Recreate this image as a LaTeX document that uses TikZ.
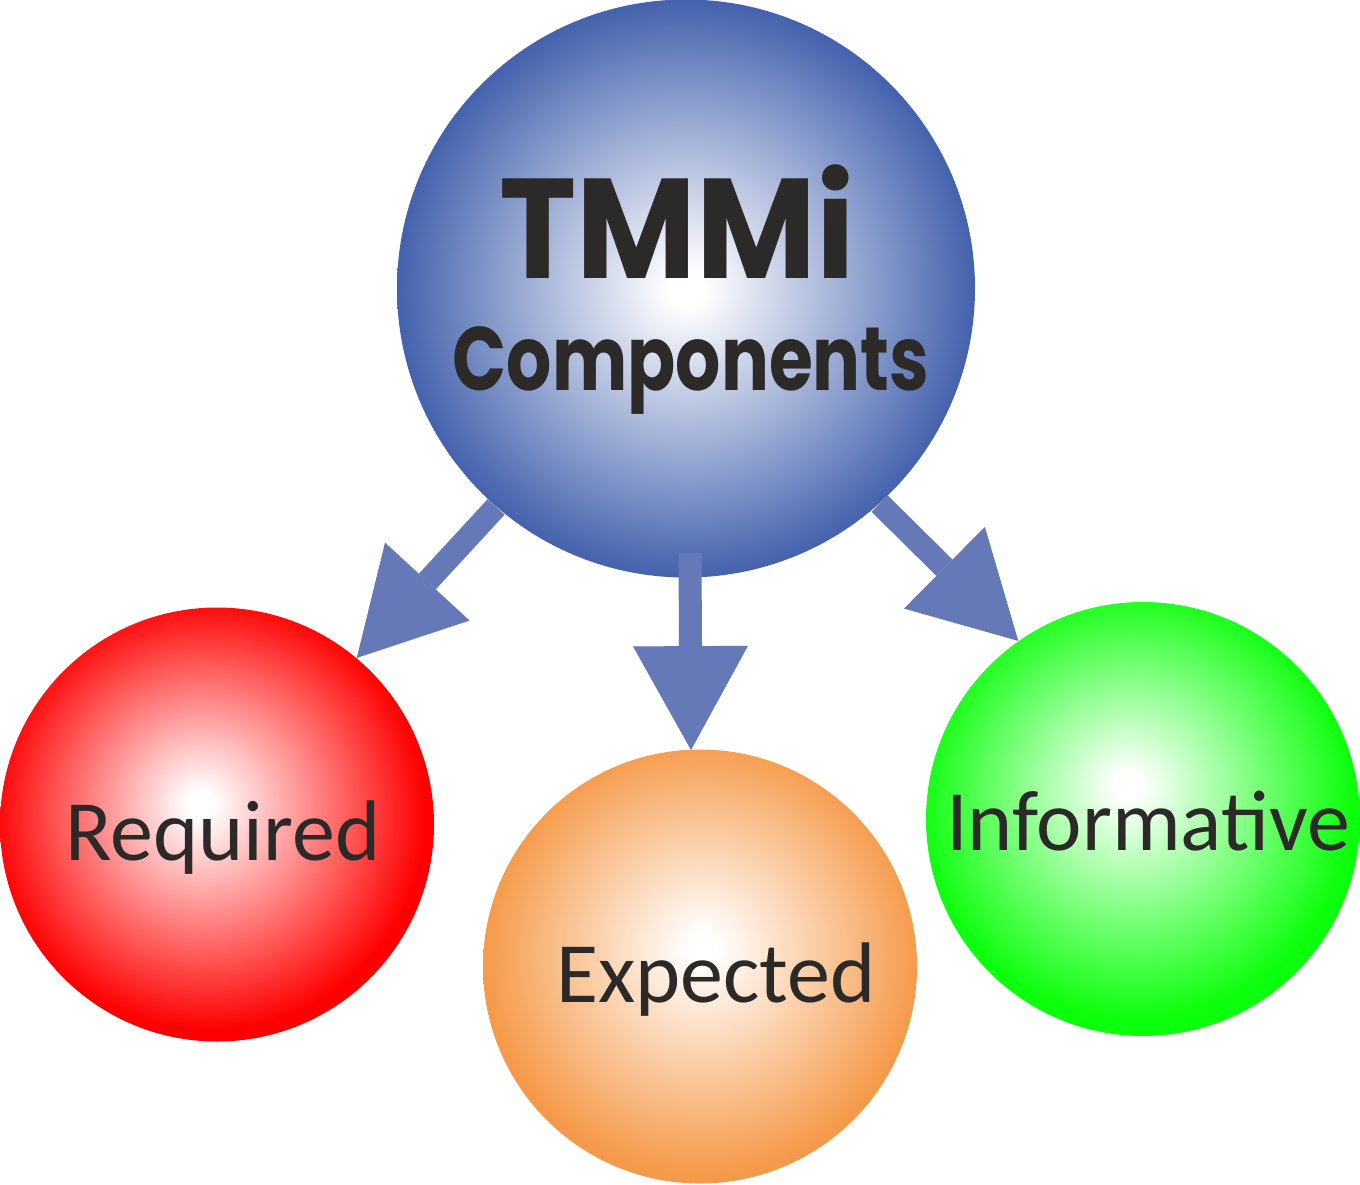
\documentclass[tikz,border=0pt]{standalone}
\usepackage{fontspec}
\setmainfont{Carlito}
\newfontfamily\titlefont{Poppins}
\usetikzlibrary{arrows.meta}
\definecolor{ballblue}{HTML}{4462AD}
\definecolor{ballred}{HTML}{FF0000}
\definecolor{ballorange}{HTML}{F59A4A}
\definecolor{ballgreen}{HTML}{0CFF0C}
\definecolor{arrowblue}{HTML}{6578B8}
\definecolor{txt}{HTML}{2B2A29}
\pgfdeclareradialshading{blueball}{\pgfpoint{0bp}{0bp}}{color(0bp)=(white); color(1.5bp)=(white); color(25bp)=(ballblue); color(50bp)=(ballblue)}
\pgfdeclareradialshading{redball}{\pgfpoint{-2bp}{2.5bp}}{color(0bp)=(white); color(1.5bp)=(white); color(25bp)=(ballred); color(50bp)=(ballred)}
\pgfdeclareradialshading{orangeball}{\pgfpoint{0.3bp}{2.3bp}}{color(0bp)=(white); color(1.5bp)=(white); color(25bp)=(ballorange); color(50bp)=(ballorange)}
\pgfdeclareradialshading{greenball}{\pgfpoint{-1.8bp}{4bp}}{color(0bp)=(white); color(1.5bp)=(white); color(25bp)=(ballgreen); color(50bp)=(ballgreen)}
\tikzset{
  ball/.style={circle, inner sep=0pt, draw=none},
  conn/.style={draw=arrowblue, line width=11.5pt,
    -{Triangle[length=52pt,width=57.5pt,line width=0pt]}},
  label/.style={text=txt, inner sep=0pt, anchor=base},
}
\begin{document}
\begin{tikzpicture}[x=0.5pt,y=-0.5pt]
\useasboundingbox (0,0) rectangle (1360,1184);
\node[ball, shading=blueball, minimum size=289pt] (top) at (686,288.5) {};
\node[ball, shading=redball, minimum size=217pt] (req) at (217,824.5) {};
\node[ball, shading=orangeball, minimum size=217pt] (exp) at (700,966.5) {};
\node[ball, shading=greenball, minimum size=217pt] (inf) at (1143,819) {};
\node[label, xscale=0.92, font=\titlefont\bfseries\fontsize{71}{80}\selectfont] (t1) at (677,278) {TMMi};
\node[label, xscale=0.79, font=\titlefont\bfseries\fontsize{45}{50}\selectfont] (t2) at (691,390) {Components};
\node[label, font=\fontsize{43}{50}\selectfont] (t3) at (223,860) {Required};
\node[label, font=\fontsize{43}{50}\selectfont] (t4) at (716,1002) {Expected};
\node[label, font=\fontsize{43}{50}\selectfont] (t5) at (1148,850) {Informative};
\draw[conn] (top.229) -- (req.50);
\draw[conn] ([xshift=2pt,yshift=12.5pt]top.south) -- ([xshift=-4.5pt,yshift=-0.5pt]exp.north);
\draw[conn] (top.312) -- (inf.125);
\end{tikzpicture}
\end{document}
